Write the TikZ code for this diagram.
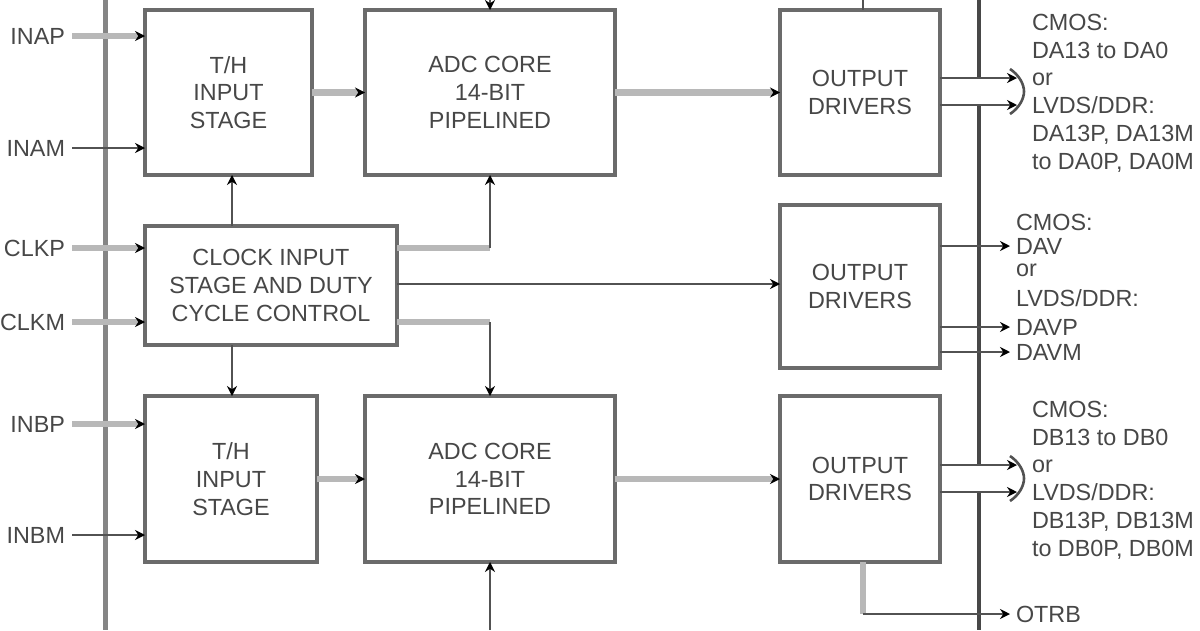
\documentclass[tikz,border=0pt]{standalone}
\usepackage{fontspec}
\setmainfont{Liberation Sans}
\usetikzlibrary{arrows.meta}
\tikzset{
  blockbox/.style={draw=black!58,line width=0.065cm,fill=white,align=center,outer sep=0pt,
    text=black!72,font=\fontsize{13.3}{15.8}\selectfont},
  pinlabel/.style={text=black!72,font=\fontsize{13.3}{15.8}\selectfont,inner ysep=0pt,outer sep=0pt},
  sidetext/.style={pinlabel,align=left,anchor=west,inner xsep=0pt},
  thinwire/.style={draw=black!68,line width=0.052cm},
  thickwire/.style={draw=black!28,line width=0.13cm},
  tipped/.style={-{Stealth[length=2mm,width=2mm,color=black]}},
}
\begin{document}
\begin{tikzpicture}[x=0.02cm,y=-0.02cm]
  \useasboundingbox (0,0) rectangle (1200,630);
  % Draw the two buses
  \draw[draw=black!48,line width=0.1cm] (105,0) -- (105,630);
  \coordinate (busatop) at (979,0);
  \coordinate (busaup) at (979,78);
  \coordinate (busadown) at (979,105);
  \coordinate (buscup) at (979,465);
  \coordinate (buscdown) at (979,492);
  \coordinate (busend) at (979,630);
  \draw[draw=black!72,line width=0.09cm] (busatop) -- (busaup);
  \draw[draw=black!72,line width=0.09cm] (busadown) -- (buscup);
  \draw[draw=black!72,line width=0.09cm] (buscdown) -- (busend);

  % Draw the blocks
  \node[blockbox,minimum width=3.34cm,minimum height=3.3cm] (tha) at (228.5,92.5) {T/H\\INPUT\\STAGE};
  \node[blockbox,minimum width=5cm,minimum height=3.3cm] (adca) at (490,92.5) {ADC CORE\\14-BIT\\PIPELINED};
  \node[blockbox,minimum width=3.2cm,minimum height=3.3cm] (outa) at (860,92.5) {OUTPUT\\DRIVERS};
  \node[blockbox,minimum width=5.04cm,minimum height=2.38cm] (clk) at (271,285.5) {CLOCK INPUT\\STAGE AND DUTY\\CYCLE CONTROL};
  \node[blockbox,minimum width=3.2cm,minimum height=3.26cm] (outb) at (860,286.5) {OUTPUT\\DRIVERS};
  \node[blockbox,minimum width=3.44cm,minimum height=3.32cm] (thb) at (231,479) {T/H\\INPUT\\STAGE};
  \node[blockbox,minimum width=5cm,minimum height=3.32cm] (adcb) at (490,479) {ADC CORE\\14-BIT\\PIPELINED};
  \node[blockbox,minimum width=3.2cm,minimum height=3.32cm] (outc) at (860,479) {OUTPUT\\DRIVERS};

  % Draw the pins on the left
  \node[pinlabel,anchor=east,inner xsep=0.14cm] (inap) at (72,36) {INAP};
  \node[pinlabel,anchor=east,inner xsep=0.14cm] (inam) at (72,148) {INAM};
  \node[pinlabel,anchor=east,inner xsep=0.14cm] (clkp) at (72,248) {CLKP};
  \node[pinlabel,anchor=east,inner xsep=0.14cm] (clkm) at (72,322) {CLKM};
  \node[pinlabel,anchor=east,inner xsep=0.14cm] (inbp) at (72,424) {INBP};
  \node[pinlabel,anchor=east,inner xsep=0.14cm] (inbm) at (72,535) {INBM};
  \draw[thickwire,tipped] (inap.east) -- (inap -| tha.west);
  \draw[thinwire,tipped] (inam.east) -- (inam -| tha.west);
  \draw[thickwire,tipped] (clkp.east) -- (clkp -| clk.west);
  \draw[thickwire,tipped] (clkm.east) -- (clkm -| clk.west);
  \draw[thickwire,tipped] (inbp.east) -- (inbp -| thb.west);
  \draw[thinwire,tipped] (inbm.east) -- (inbm -| thb.west);

  % Draw the links between the blocks
  \draw[thickwire,tipped] (tha.east) -- (adca.west);
  \draw[thickwire,tipped] (thb.east) -- (adcb.west);
  \draw[thickwire,tipped] (adca.east) -- (outa.west);
  \draw[thickwire,tipped] (adcb.east) -- (outc.west);
  \coordinate (clkup) at (232,226);
  \coordinate (clkdown) at (232,345);
  \draw[thinwire,tipped] (clkup) -- (clkup |- tha.south);
  \draw[thinwire,tipped] (clkdown) -- (clkdown |- thb.north);
  \coordinate (clka) at (397,248);
  \coordinate (clkc) at (397,322);
  \coordinate (clko) at (397,284);
  \draw[thickwire] (clka) -- (clka -| adca.south);
  \draw[thinwire,tipped] (clka -| adca.south) -- (adca.south);
  \draw[thickwire] (clkc) -- (clkc -| adcb.north);
  \draw[thinwire,tipped] (clkc -| adcb.north) -- (adcb.north);
  \draw[thinwire,tipped] (clko) -- (clko -| outb.west);

  % Draw the stubs at the edges
  \coordinate (adcatop) at (490,0);
  \coordinate (adcbend) at (490,630);
  \coordinate (outatop) at (863,0);
  \draw[thinwire,tipped] (adcatop) -- (adca.north);
  \draw[thinwire,tipped] (adcbend) -- (adcb.south);
  \draw[thinwire] (outatop) -- (outatop |- outa.north);

  % Draw the texts and the outputs on the right
  \node[sidetext] (texta) at (1032,93) {CMOS:\\DA13 to DA0\\or\\LVDS/DDR:\\DA13P, DA13M\\to DA0P, DA0M};
  \node[sidetext] (textc) at (1032,480) {CMOS:\\DB13 to DB0\\or\\LVDS/DDR:\\DB13P, DB13M\\to DB0P, DB0M};
  \node[sidetext] (cmosb) at (1016,222) {CMOS:};
  \node[sidetext] (orb) at (1016,270) {or};
  \node[sidetext] (lvdsb) at (1016,298) {LVDS/DDR:};
  \node[pinlabel,anchor=west,inner xsep=0.12cm] (dav) at (1010,246) {DAV};
  \node[pinlabel,anchor=west,inner xsep=0.12cm] (davp) at (1010,327) {DAVP};
  \node[pinlabel,anchor=west,inner xsep=0.12cm] (davm) at (1010,352) {DAVM};
  \node[pinlabel,anchor=west,inner xsep=0.12cm] (otrb) at (1010,614) {OTRB};
  \draw[thinwire,tipped] (dav -| outb.east) -- (dav.west);
  \draw[thinwire,tipped] (davp -| outb.east) -- (davp.west);
  \draw[thinwire,tipped] (davm -| outb.east) -- (davm.west);

  \coordinate (otrbtop) at (863,562);
  \draw[thickwire] (otrbtop) -- (otrbtop |- otrb);
  \draw[thinwire,tipped] (otrbtop |- otrb) -- (otrb.west);

  % Draw the two bus outputs
  \coordinate (tipaup) at (1017,78);
  \coordinate (tipadown) at (1017,105);
  \coordinate (tipcup) at (1017,465);
  \coordinate (tipcdown) at (1017,492);
  \draw[thinwire,tipped] (busaup -| outa.east) -- (tipaup);
  \draw[thinwire,tipped] (busadown -| outa.east) -- (tipadown);
  \draw[thinwire] (1010,69) .. controls (1019,75) and (1024,84) .. (1024,91.5) .. controls (1024,99) and (1019,108) .. (1010,114);
  \draw[thinwire,tipped] (buscup -| outc.east) -- (tipcup);
  \draw[thinwire,tipped] (buscdown -| outc.east) -- (tipcdown);
  \draw[thinwire] (1010,456) .. controls (1019,462) and (1024,471) .. (1024,478.5) .. controls (1024,486) and (1019,495) .. (1010,501);
\end{tikzpicture}
\end{document}
